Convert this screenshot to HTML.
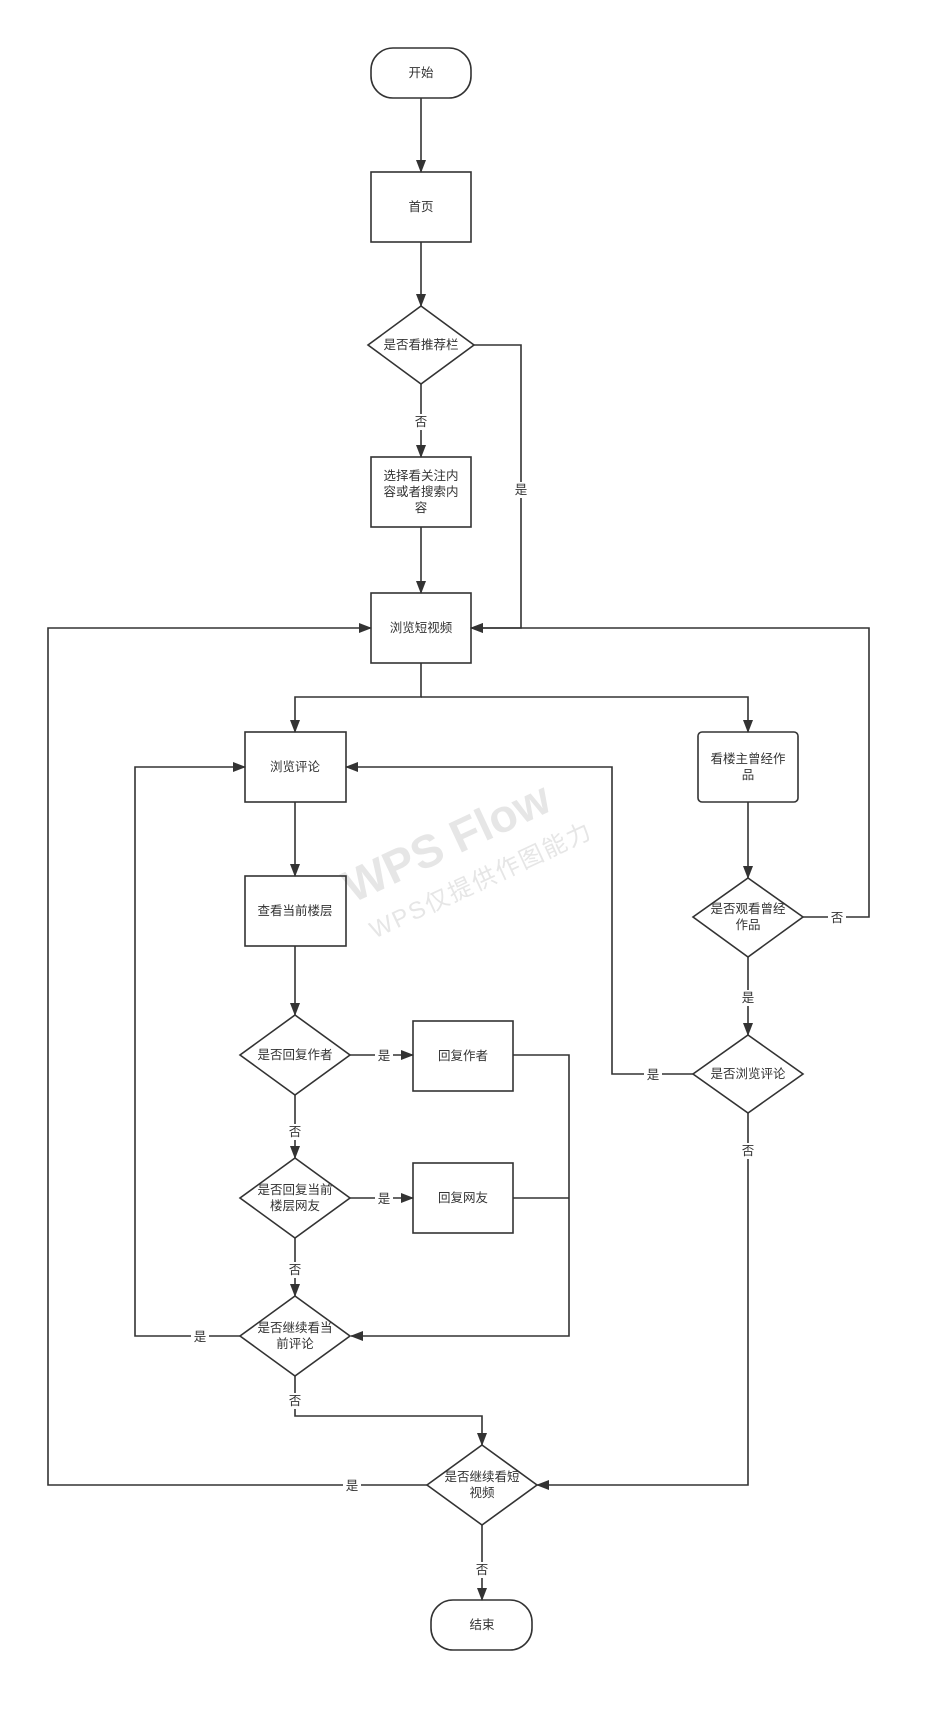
<!DOCTYPE html>
<html><head><meta charset="utf-8"><style>
html,body{margin:0;padding:0;background:#fff;}
svg{display:block;}
text{font-family:"Liberation Sans","Noto Sans CJK SC",sans-serif;font-size:12.5px;fill:#333;text-anchor:middle;dominant-baseline:central;}
</style></head><body>
<svg width="930" height="1711" viewBox="0 0 930 1711" xmlns="http://www.w3.org/2000/svg">
<defs>
<marker id="a" markerWidth="13" markerHeight="10" refX="12" refY="5" orient="auto" markerUnits="userSpaceOnUse">
<path d="M0,0 L13,5 L0,10 Z" fill="#333"/></marker>
</defs>
<g transform="rotate(-25 455 860)">
<text x="455" y="840" style="font-size:46px;font-weight:bold;fill:#e6e6e6">WPS Flow</text>
<text x="470" y="890" style="font-size:24px;fill:#e6e6e6;letter-spacing:2px">WPS仅提供作图能力</text>
</g>
<g fill="none" stroke="#333" stroke-width="1.6">
<rect x="371" y="48" width="100" height="50" rx="22"/>
<rect x="371" y="172" width="100" height="70"/>
<polygon points="421,306 474,345 421,384 368,345"/>
<rect x="371" y="457" width="100" height="70"/>
<rect x="371" y="593" width="100" height="70"/>
<rect x="245" y="732" width="101" height="70"/>
<rect x="698" y="732" width="100" height="70" rx="4"/>
<rect x="245" y="876" width="101" height="70"/>
<polygon points="295,1015 350,1055 295,1095 240,1055"/>
<rect x="413" y="1021" width="100" height="70"/>
<polygon points="295,1158 350,1198 295,1238 240,1198"/>
<rect x="413" y="1163" width="100" height="70"/>
<polygon points="295,1296 350,1336 295,1376 240,1336"/>
<polygon points="748,878 803,917 748,957 693,917"/>
<polygon points="748,1035 803,1074 748,1113 693,1074"/>
<polygon points="482,1445 537,1485 482,1525 427,1485"/>
<rect x="431" y="1600" width="101" height="50" rx="22"/>
<path d="M421,98 V172" marker-end="url(#a)"/>
<path d="M421,242 V306" marker-end="url(#a)"/>
<path d="M421,384 V457" marker-end="url(#a)"/>
<path d="M421,527 V593" marker-end="url(#a)"/>
<path d="M474,345 H521 V628 H471" marker-end="url(#a)"/>
<path d="M421,663 V697 H295 V732" marker-end="url(#a)"/>
<path d="M421,697 H748 V732" marker-end="url(#a)"/>
<path d="M295,802 V876" marker-end="url(#a)"/>
<path d="M295,946 V1015" marker-end="url(#a)"/>
<path d="M350,1055 H413" marker-end="url(#a)"/>
<path d="M295,1095 V1158" marker-end="url(#a)"/>
<path d="M350,1198 H413" marker-end="url(#a)"/>
<path d="M295,1238 V1296" marker-end="url(#a)"/>
<path d="M513,1055 H569 V1336 H351" marker-end="url(#a)"/>
<path d="M513,1198 H569"/>
<path d="M240,1336 H135 V767 H245" marker-end="url(#a)"/>
<path d="M295,1376 V1416 H482 V1445" marker-end="url(#a)"/>
<path d="M427,1485 H48 V628 H371" marker-end="url(#a)"/>
<path d="M482,1525 V1600" marker-end="url(#a)"/>
<path d="M748,802 V878" marker-end="url(#a)"/>
<path d="M803,917 H869 V628 H471" marker-end="url(#a)"/>
<path d="M748,957 V1035" marker-end="url(#a)"/>
<path d="M693,1074 H612 V767 H346" marker-end="url(#a)"/>
<path d="M748,1113 V1485 H537" marker-end="url(#a)"/>
</g>
<g>
<rect x="412" y="414" width="18" height="16" fill="#fff"/><text x="421" y="422">否</text>
<rect x="512" y="482" width="18" height="16" fill="#fff"/><text x="521" y="490">是</text>
<rect x="375" y="1047" width="18" height="16" fill="#fff"/><text x="384" y="1056">是</text>
<rect x="286" y="1124" width="18" height="16" fill="#fff"/><text x="295" y="1132">否</text>
<rect x="375" y="1190" width="18" height="16" fill="#fff"/><text x="384" y="1199">是</text>
<rect x="286" y="1262" width="18" height="16" fill="#fff"/><text x="295" y="1270">否</text>
<rect x="191" y="1328" width="18" height="16" fill="#fff"/><text x="200" y="1337">是</text>
<rect x="286" y="1393" width="18" height="16" fill="#fff"/><text x="295" y="1401">否</text>
<rect x="343" y="1477" width="18" height="16" fill="#fff"/><text x="352" y="1486">是</text>
<rect x="473" y="1562" width="18" height="16" fill="#fff"/><text x="482" y="1570">否</text>
<rect x="828" y="909" width="18" height="16" fill="#fff"/><text x="837" y="918">否</text>
<rect x="739" y="990" width="18" height="16" fill="#fff"/><text x="748" y="998">是</text>
<rect x="644" y="1066" width="18" height="16" fill="#fff"/><text x="653" y="1075">是</text>
<rect x="739" y="1143" width="18" height="16" fill="#fff"/><text x="748" y="1151">否</text>
</g>
<text x="421" y="73">开始</text>
<text x="421" y="207">首页</text>
<text x="421" y="345">是否看推荐栏</text>
<text x="421" y="476">选择看关注内</text>
<text x="421" y="492">容或者搜索内</text>
<text x="421" y="508">容</text>
<text x="421" y="628">浏览短视频</text>
<text x="295" y="767">浏览评论</text>
<text x="748" y="759">看楼主曾经作</text>
<text x="748" y="775">品</text>
<text x="295" y="911">查看当前楼层</text>
<text x="295" y="1055">是否回复作者</text>
<text x="463" y="1056">回复作者</text>
<text x="295" y="1190">是否回复当前</text>
<text x="295" y="1206">楼层网友</text>
<text x="463" y="1198">回复网友</text>
<text x="295" y="1328">是否继续看当</text>
<text x="295" y="1344">前评论</text>
<text x="748" y="909">是否观看曾经</text>
<text x="748" y="925">作品</text>
<text x="748" y="1074">是否浏览评论</text>
<text x="482" y="1477">是否继续看短</text>
<text x="482" y="1493">视频</text>
<text x="482" y="1625">结束</text>
</svg>
</body></html>
